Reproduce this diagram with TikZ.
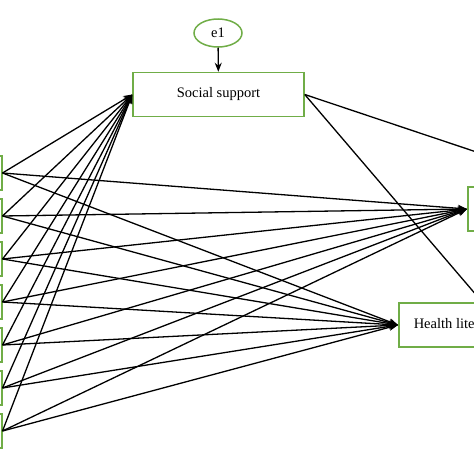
\documentclass[tikz,border=0pt]{standalone}
\usepackage{fontspec}
\setmainfont{Liberation Serif}
\usetikzlibrary{arrows.meta, shapes.geometric}
\definecolor{boxgreen}{RGB}{112,173,71}
\tikzset{
  box/.style={draw=boxgreen, line width=1.5pt, fill=white, minimum height=44pt},
  link/.style={line width=1.3pt, -{Stealth[length=9pt,width=7pt]}}
}

\begin{document}
\begin{tikzpicture}[x=1pt, y=-1pt, font=\fontsize{14.5}{17}\selectfont]
  \fill[white] (0,0) rectangle (474,474);
  \useasboundingbox (0,0) rectangle (474,474);
  \clip (0,0) rectangle (474,474);
  % latent error and mediator
  \node[ellipse, draw=boxgreen, line width=1.5pt, minimum width=48pt, minimum height=28pt, inner sep=0pt] (e1) at (218,33) {e1};
  \node[box, minimum width=171pt] (ss) at (218.5,94.5) {Social support};
  % outcomes, cut off at the right edge
  \node[box, anchor=west, minimum width=120pt] (out) at (467,209) {};
  \node[box, anchor=west, inner xsep=15pt] (hl) at (398,325) {Health literacy};
  \coordinate (qa) at (560,180);
  \coordinate (qb) at (560,393);
  % predictors, cut off at the left edge
  \foreach \i in {1,...,7}
    \node[box, anchor=east, minimum width=60pt, minimum height=34pt] (s\i) at (2.5,{173+43*(\i-1)}) {};
  % paths
  \draw[link] (e1) -- (ss);
  \draw[link] (ss.east) -- (qa);
  \draw[link] (ss.east) -- (qb);
  \foreach \i in {1,...,7} {
    \draw[link] (s\i.east) -- (ss.west);
    \draw[link] (s\i.east) -- (out.west);
    \draw[link] (s\i.east) -- (hl.west);
  }
\end{tikzpicture}
\end{document}
